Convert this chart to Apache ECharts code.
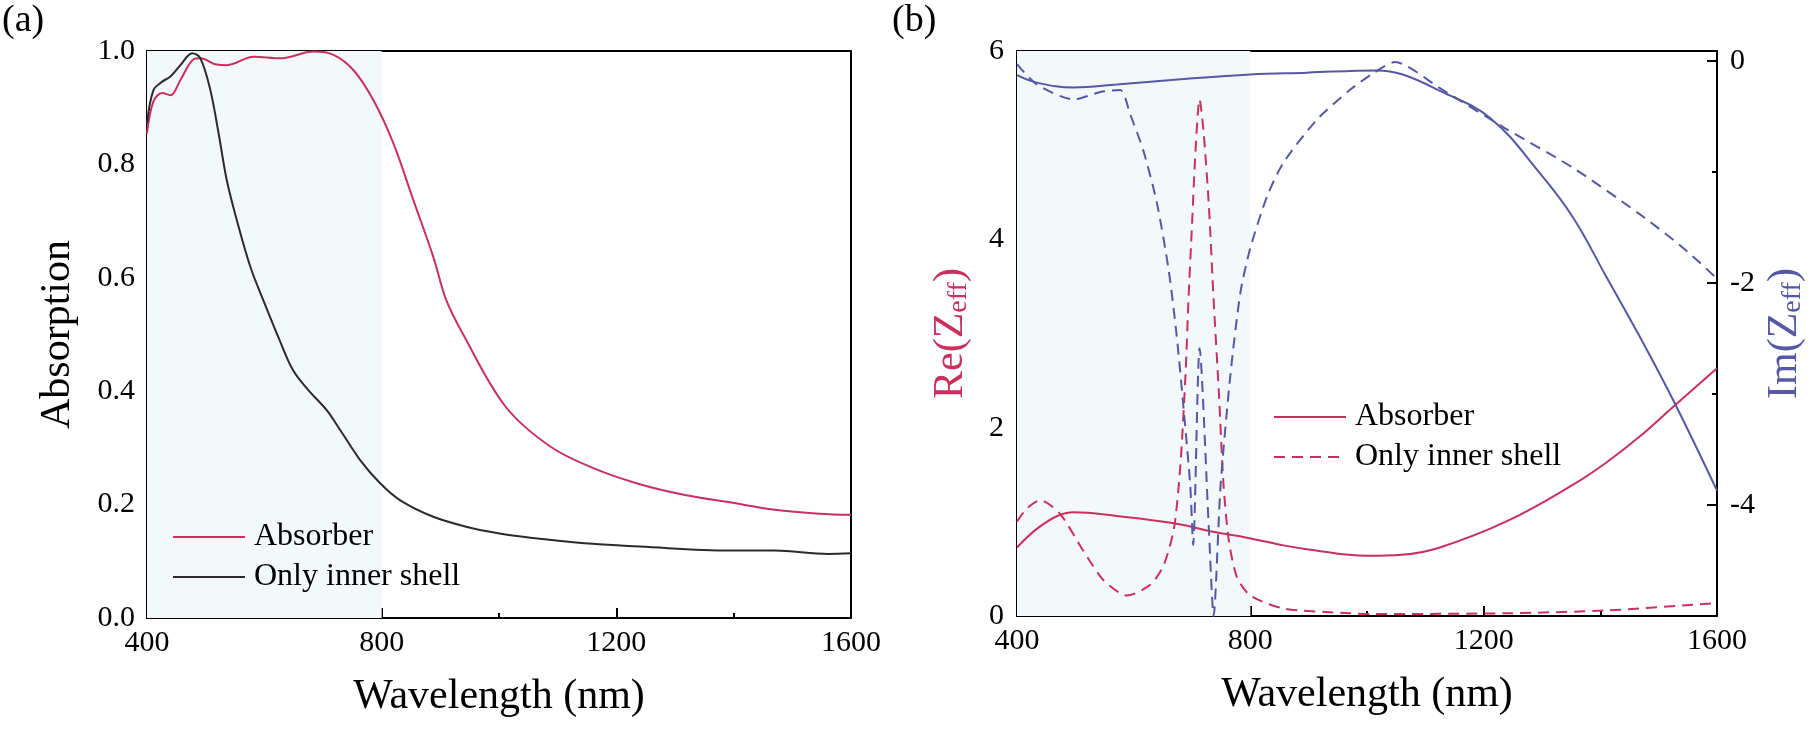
<!DOCTYPE html>
<html>
<head>
<meta charset="utf-8">
<script src="https://cdn.jsdelivr.net/npm/echarts@6/dist/echarts.min.js"></script>
<style>
html, body { margin: 0; padding: 0; background: #fff; }
#main { width: 1817px; height: 729px; }
</style>
</head>
<body>
<div id="main"></div>
<script>
// (a) absorption spectra
var wlAbsorberA = [400, 411, 426, 440, 457, 479, 491, 519, 536, 582, 627, 684, 718, 752, 786, 820, 854, 888, 910, 939, 1011, 1088, 1164, 1240, 1317, 1393, 1470, 1546, 1600];
var absorberA = [0.855, 0.911, 0.926, 0.922, 0.949, 0.985, 0.987, 0.976, 0.975, 0.990, 0.987, 0.999, 0.993, 0.966, 0.913, 0.837, 0.737, 0.637, 0.561, 0.500, 0.373, 0.302, 0.263, 0.236, 0.217, 0.204, 0.191, 0.184, 0.182];

var wlInnerA = [400, 411, 426, 440, 457, 477, 491, 508, 522, 536, 553, 576, 598, 626, 649, 675, 706, 729, 763, 797, 831, 887, 944, 1001, 1058, 1114, 1171, 1240, 1393, 1470, 1561, 1600];
var innerA = [0.872, 0.931, 0.946, 0.955, 0.975, 0.996, 0.987, 0.931, 0.855, 0.772, 0.702, 0.620, 0.561, 0.490, 0.437, 0.402, 0.367, 0.332, 0.279, 0.238, 0.208, 0.179, 0.161, 0.149, 0.141, 0.135, 0.130, 0.126, 0.119, 0.119, 0.113, 0.114];

// (b) Re(Zeff)
var wlReAbsorber = [400, 434, 469, 497, 571, 669, 743, 782, 857, 897, 1000, 1060, 1125, 1239, 1354, 1411, 1468, 1525, 1600];
var reAbsorber = [0.728, 0.925, 1.062, 1.102, 1.062, 0.984, 0.886, 0.846, 0.750, 0.710, 0.640, 0.650, 0.728, 1.004, 1.397, 1.633, 1.908, 2.222, 2.630];

var wlReInner = [400, 417, 440, 474, 514, 549, 589, 629, 651, 669, 680, 689, 694, 700, 706, 713, 720, 729, 737, 746, 754, 763, 777, 800, 857, 971, 1011, 1239, 1411, 1600];
var reInner = [1.004, 1.142, 1.23, 1.083, 0.689, 0.375, 0.217, 0.335, 0.532, 0.925, 1.594, 2.577, 3.363, 4.15, 4.937, 5.487, 5.13, 4.35, 3.363, 2.38, 1.397, 0.807, 0.414, 0.217, 0.08, 0.029, 0.021, 0.029, 0.059, 0.138];

// (b) Im(Zeff)
var wlImAbsorber = [400, 434, 497, 571, 686, 800, 897, 1017, 1060, 1125, 1211, 1297, 1354, 1411, 1468, 1525, 1600];
var imAbsorber = [-0.128, -0.195, -0.239, -0.212, -0.162, -0.121, -0.105, -0.085, -0.120, -0.270, -0.513, -1.015, -1.416, -1.951, -2.487, -3.056, -3.870];

var wlImInner = [400, 434, 497, 543, 577, 594, 617, 640, 660, 674, 686, 697, 702, 713, 729, 737, 749, 766, 783, 800, 829, 857, 914, 971, 1011, 1048, 1125, 1239, 1354, 1468, 1542, 1600];
var imInner = [-0.028, -0.212, -0.346, -0.279, -0.262, -0.479, -0.814, -1.283, -1.884, -2.487, -3.156, -3.825, -4.36, -2.587, -4.227, -5.0, -3.825, -2.82, -2.086, -1.684, -1.216, -0.914, -0.53, -0.26, -0.11, -0.01, -0.245, -0.613, -0.965, -1.382, -1.684, -1.96];

var wlTicks = [400, 800, 1200, 1600];
var shadeRange = [400, 800];

var legendNames = {
	'a-abs': 'Absorber',
	'a-inner': 'Only inner shell',
	'b-re-abs': 'Absorber',
	'b-re-inner': 'Only inner shell'
};

var FONT = 'Liberation Serif';
var RED = '#C9305E';
var BLUE = '#5558A4';
var SHADE = '#F3F8FB';

function zip(xs, ys) {
	var out = [];
	for (var i = 0; i < xs.length; i++) {
		out.push([xs[i], ys[i]]);
	}
	return out;
}

function bottomAxis(gridIndex) {
	return {
		type: 'value',
		gridIndex: gridIndex,
		position: 'bottom',
		min: wlTicks[0],
		max: wlTicks[wlTicks.length - 1],
		interval: wlTicks[1] - wlTicks[0],
		name: 'Wavelength (nm)',
		nameLocation: 'middle',
		nameGap: 58,
		nameTextStyle: { fontFamily: FONT, fontSize: 42, color: '#000' },
		axisLine: { show: true, onZero: false, lineStyle: { color: '#000', width: 2 } },
		axisTick: { show: true, inside: true, length: 10, lineStyle: { color: '#000', width: 2 } },
		minorTick: { show: true, splitNumber: 2, length: 5, lineStyle: { color: '#000', width: 2 } },
		axisLabel: {
			fontFamily: FONT, fontSize: 30, color: '#000', margin: 10,
			formatter: function(v) { return String(v); }
		},
		splitLine: { show: false }
	};
}

function frameAxis(gridIndex, position, min, max) {
	return {
		type: 'value',
		gridIndex: gridIndex,
		position: position,
		min: min,
		max: max,
		axisLine: { show: true, onZero: false, lineStyle: { color: '#000', width: 2 } },
		axisTick: { show: false },
		axisLabel: { show: false },
		splitLine: { show: false }
	};
}

function lineSeries(name, xi, yi, data, color, dashed, smooth) {
	return {
		name: name,
		type: 'line',
		xAxisIndex: xi,
		yAxisIndex: yi,
		data: data,
		symbol: 'none',
		smooth: smooth,
		lineStyle: { color: color, width: 2, type: dashed ? [11, 7] : 'solid' },
		itemStyle: { color: color },
		z: 3
	};
}

function shadeArea() {
	return {
		silent: true,
		itemStyle: { color: SHADE },
		data: [[{ xAxis: shadeRange[0] }, { xAxis: shadeRange[1] }]]
	};
}

function extend(a, b) {
	var o = {};
	for (var k in a) o[k] = a[k];
	for (var j in b) o[j] = b[j];
	return o;
}

var seriesList = [
	lineSeries('a-abs', 0, 0, zip(wlAbsorberA, absorberA), RED, false, 0.35),
	lineSeries('a-inner', 0, 0, zip(wlInnerA, innerA), '#2b2b2b', false, 0.35),
	lineSeries('b-re-abs', 2, 2, zip(wlReAbsorber, reAbsorber), RED, false, 0.4),
	lineSeries('b-re-inner', 2, 2, zip(wlReInner, reInner), RED, true, 0.25),
	lineSeries('b-im-abs', 2, 3, zip(wlImAbsorber, imAbsorber), BLUE, false, 0.4),
	lineSeries('b-im-inner', 2, 3, zip(wlImInner, imInner), BLUE, true, 0.25)
];
seriesList[0].markArea = shadeArea();
seriesList[2].markArea = shadeArea();

var legendBase = {
	orient: 'vertical',
	itemWidth: 72,
	itemHeight: 28,
	itemGap: 8,
	selectedMode: false,
	itemStyle: { opacity: 0 },
	textStyle: { fontFamily: FONT, fontSize: 32, lineHeight: 32, color: '#000', padding: [0, 0, 0, 4] },
	formatter: function(name) {
		return legendNames[name];
	}
};

var option = {
	animation: false,
	backgroundColor: '#fff',
	textStyle: { fontFamily: FONT },
	grid: [
		{ left: 147, top: 51, width: 704, height: 567 },
		{ left: 1017, top: 51, width: 700, height: 565 }
	],
	graphic: [
		{ type: 'text', left: 2, top: 2, style: { text: '(a)', fontFamily: FONT, fontSize: 38, fill: '#000' } },
		{ type: 'text', left: 892, top: 2, style: { text: '(b)', fontFamily: FONT, fontSize: 38, fill: '#000' } }
	],
	legend: [
		extend(legendBase, { data: ['a-abs', 'a-inner'], left: 167, top: 516 }),
		extend(legendBase, { data: ['b-re-abs', 'b-re-inner'], left: 1268, top: 396 })
	],
	xAxis: [
		bottomAxis(0),
		frameAxis(0, 'top', 400, 1600),
		bottomAxis(1),
		frameAxis(1, 'top', 400, 1600)
	],
	yAxis: [
		{
			type: 'value',
			gridIndex: 0,
			position: 'left',
			min: 0,
			max: 1,
			interval: 0.2,
			name: 'Absorption',
			nameLocation: 'middle',
			nameGap: 68,
			nameTextStyle: { fontFamily: FONT, fontSize: 42, color: '#000' },
			axisLine: { show: true, onZero: false, lineStyle: { color: '#000', width: 2 } },
			axisTick: { show: true, inside: true, length: 10, lineStyle: { color: '#000', width: 2 } },
			minorTick: { show: true, splitNumber: 2, length: 5, lineStyle: { color: '#000', width: 2 } },
			axisLabel: {
				fontFamily: FONT, fontSize: 30, color: '#000', margin: 12,
				formatter: function(v) { return v.toFixed(1); }
			},
			splitLine: { show: false }
		},
		frameAxis(0, 'right', 0, 1),
		{
			type: 'value',
			gridIndex: 1,
			position: 'left',
			min: 0,
			max: 6,
			interval: 2,
			name: '{m|Re(Z}{s|eff}{m|)}',
			nameLocation: 'middle',
			nameGap: 44,
			nameTextStyle: {
				fontFamily: FONT, fontSize: 42, color: RED,
				rich: {
					m: { fontFamily: FONT, fontSize: 42, color: RED, lineHeight: 44 },
					s: { fontFamily: FONT, fontSize: 28, color: RED, lineHeight: 20, verticalAlign: 'bottom' }
				}
			},
			axisLine: { show: true, onZero: false, lineStyle: { color: '#000', width: 2 } },
			axisTick: { show: true, inside: true, length: 10, lineStyle: { color: '#000', width: 2 } },
			minorTick: { show: true, splitNumber: 2, length: 5, lineStyle: { color: '#000', width: 2 } },
			axisLabel: { fontFamily: FONT, fontSize: 30, color: '#000', margin: 13 },
			splitLine: { show: false }
		},
		{
			type: 'value',
			gridIndex: 1,
			position: 'right',
			min: -5,
			max: 0.09,
			name: '{m|Im(Z}{s|eff}{m|)}',
			nameLocation: 'middle',
			nameGap: 46,
			nameTextStyle: {
				fontFamily: FONT, fontSize: 42, color: BLUE,
				rich: {
					m: { fontFamily: FONT, fontSize: 42, color: BLUE, lineHeight: 44 },
					s: { fontFamily: FONT, fontSize: 28, color: BLUE, lineHeight: 20, verticalAlign: 'bottom' }
				}
			},
			axisLine: { show: true, onZero: false, lineStyle: { color: '#000', width: 2 } },
			axisTick: { show: true, inside: true, length: 10, customValues: [-4, -2, 0], lineStyle: { color: '#000', width: 2 } },
			axisLabel: { fontFamily: FONT, fontSize: 30, color: '#000', margin: 13, customValues: [-4, -2, 0] },
			splitLine: { show: false }
		},
		{
			// minor ticks of the Im axis
			type: 'value',
			gridIndex: 1,
			position: 'right',
			min: -5,
			max: 0.09,
			axisLine: { show: false },
			axisTick: { show: true, inside: true, length: 5, customValues: [-5, -3, -1], lineStyle: { color: '#000', width: 2 } },
			axisLabel: { show: false },
			splitLine: { show: false }
		}
	],
	series: seriesList
};

var chart = echarts.init(document.getElementById('main'));
chart.setOption(option);
</script>
</body>
</html>
